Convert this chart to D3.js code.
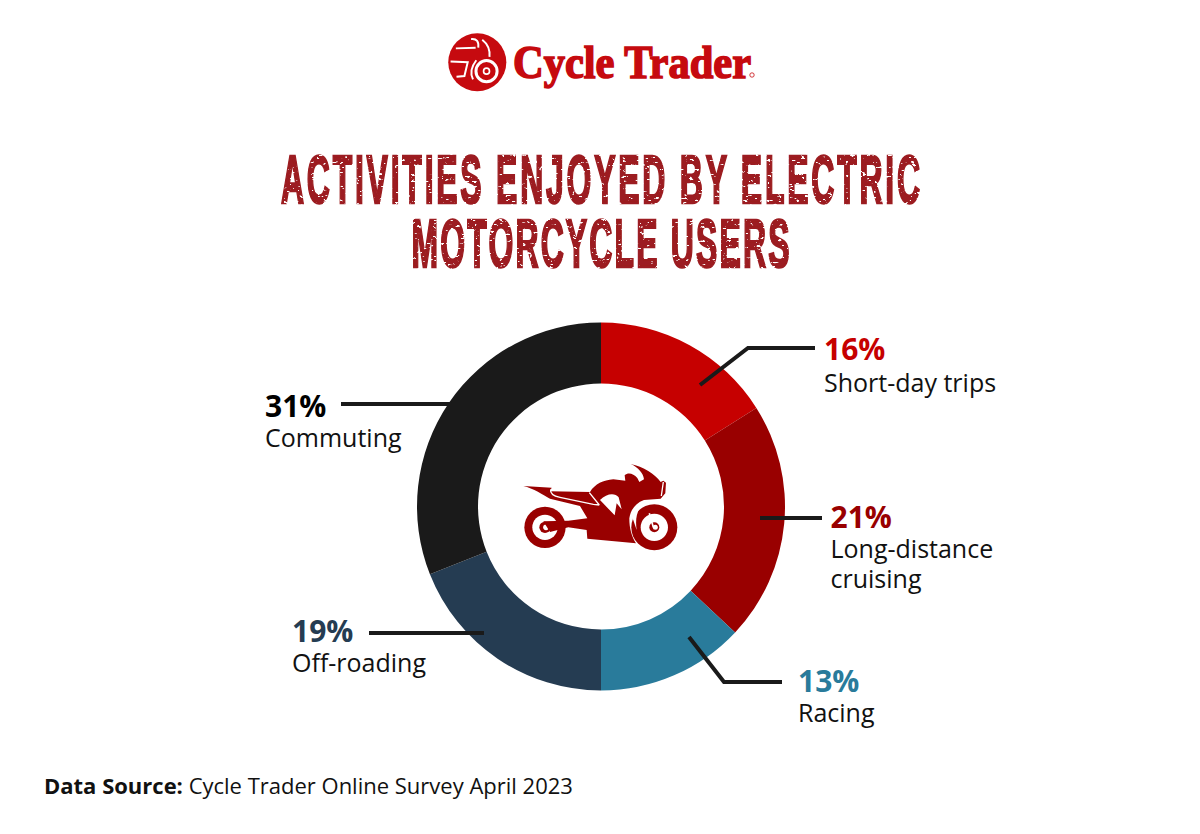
<!DOCTYPE html>
<html>
<head>
<meta charset="utf-8">
<script src="https://cdn.jsdelivr.net/npm/d3@7"></script>
<style>
  html, body { margin: 0; background: #fff; }
  svg { display: block; }
  text { font-family: "Open Sans", sans-serif; }
</style>
</head>
<body>
<svg width="1200" height="834"></svg>
<script>
const categories = ['Short-day trips', 'Long-distance cruising', 'Racing', 'Off-roading', 'Commuting'];
const values = [16, 21, 13, 19, 31];
const colors = ['#c60000', '#990000', '#297b9b', '#253c52', '#1a1a1a'];
const labelColors = ['#c60000', '#990000', '#297b9b', '#253c52', '#000'];
const labelLines = [['Short-day trips'], ['Long-distance', 'cruising'], ['Racing'], ['Off-roading'], ['Commuting']];
const titleLines = ['ACTIVITIES ENJOYED BY ELECTRIC', 'MOTORCYCLE USERS'];

const svg = d3.select('svg');
const cx = 601, cy = 506.5;

// worn print look for the title
const defs = svg.append('defs');
const worn = defs.append('filter').attr('id', 'worn')
  .attr('filterUnits', 'userSpaceOnUse')
  .attr('x', 240).attr('y', 130).attr('width', 720).attr('height', 160);
worn.append('feTurbulence')
  .attr('type', 'fractalNoise').attr('baseFrequency', '0.18 0.42')
  .attr('numOctaves', 3).attr('seed', 7).attr('result', 'noise');
worn.append('feColorMatrix').attr('in', 'noise').attr('type', 'matrix')
  .attr('values', '0 0 0 0 0  0 0 0 0 0  0 0 0 0 0  0 0 0 -14 10.4').attr('result', 'mask');
worn.append('feComposite').attr('in', 'SourceGraphic').attr('in2', 'mask').attr('operator', 'in');

const pie = d3.pie().sort(null).value(d => d);
const arc = d3.arc().innerRadius(123).outerRadius(184);
const arcs = pie(values);

const donut = svg.append('g').attr('transform', `translate(${cx}, ${cy})`);
donut.selectAll('path')
  .data(arcs)
  .enter()
  .append('path')
    .attr('d', arc)
    .attr('fill', (d, i) => colors[i]);

// logo, sketched in the crop's own 3x coordinates
const logo = svg.append('g').attr('transform', 'translate(440, 20) scale(0.33)');
logo.append('circle').attr('cx', 113).attr('cy', 128).attr('r', 88).attr('fill', '#c60a0f');
logo.append('path')
  .attr('d', 'M48,86 L108,84 M94,58 C112,56 118,66 116,84 M128,60 C146,74 152,92 150,112 M32,126 L84,128 L74,170 L50,172')
  .attr('fill', 'none').attr('stroke', '#fff').attr('stroke-width', 6);
logo.append('path')
  .attr('d', 'M110,122 C96,140 90,160 100,180')
  .attr('fill', 'none').attr('stroke', '#fff').attr('stroke-width', 6);
logo.append('circle').attr('cx', 141).attr('cy', 155).attr('r', 32)
  .attr('fill', 'none').attr('stroke', '#fff').attr('stroke-width', 9);
logo.append('circle').attr('cx', 141).attr('cy', 155).attr('r', 9)
  .attr('fill', 'none').attr('stroke', '#fff').attr('stroke-width', 5);

svg.append('text')
  .attr('x', 513).attr('y', 78)
  .attr('font-weight', 700).attr('font-size', 46)
  .attr('textLength', 238).attr('lengthAdjust', 'spacingAndGlyphs')
  .style('font-family', '"Liberation Serif", serif')
  .attr('fill', '#c60a0f')
  .attr('stroke', '#c60a0f').attr('stroke-width', 1.6)
  .text('Cycle Trader');
svg.append('circle').attr('cx', 752).attr('cy', 75).attr('r', 2.2)
  .attr('fill', 'none').attr('stroke', '#c60a0f').attr('stroke-width', 0.8);

// title: squeezed horizontally, letters spread back out to the line width
const titleScale = 0.47;
const titleWidths = [639, 378];
const title = svg.append('g').attr('filter', 'url(#worn)')
  .append('text')
    .attr('transform', `scale(${titleScale}, 1)`)
    .attr('font-size', 68)
    .attr('font-weight', 700)
    .attr('fill', '#9c1c20')
    .attr('stroke', '#9c1c20')
    .attr('stroke-width', 2.5)
    .style('font-family', '"Liberation Sans Narrow", sans-serif');
title.selectAll('tspan')
  .data(titleLines)
  .enter()
  .append('tspan')
    .attr('x', (d, i) => (600.5 - titleWidths[i] / 2) / titleScale)
    .attr('y', (d, i) => 203 + i * 64)
    .attr('textLength', (d, i) => titleWidths[i] / titleScale)
    .attr('lengthAdjust', 'spacing')
    .text(d => d);

// center bike, sketched in the crop's own 3x coordinates
const bike = svg.append('g').attr('transform', 'translate(500, 450) scale(0.3333)');
const bikeRed = '#990000';
[[135, 232, 62, 38, 17], [463, 232, 69, 41, 15]].forEach(w => {
  bike.append('circle').attr('cx', w[0]).attr('cy', w[1]).attr('r', w[2]).attr('fill', bikeRed);
  bike.append('circle').attr('cx', w[0]).attr('cy', w[1]).attr('r', w[3]).attr('fill', '#fff');
  bike.append('circle').attr('cx', w[0]).attr('cy', w[1]).attr('r', w[4]).attr('fill', bikeRed);
  bike.append('circle').attr('cx', w[0] + 3).attr('cy', w[1]).attr('r', w[4] * 0.5).attr('fill', '#fff');
});
bike.append('path').attr('fill', bikeRed)
  .attr('d', 'M70,108 L155,113 L150,124 L270,126 C285,102 310,90 340,88 L376,92 L374,76 C384,66 400,70 412,84 L418,96 L432,88 C430,70 415,52 392,42 C430,50 465,72 482,96 L490,92 L498,98 L496,130 L482,146 L432,150 C405,160 392,180 388,205 C388,235 395,260 408,280 L262,266 L260,240 L205,232 L150,246 L130,214 L205,212 L262,205 L240,168 L150,146 C130,135 100,115 70,108 Z');
bike.append('path').attr('fill', '#fff')
  .attr('d', 'M300,150 C320,130 345,128 356,142 L365,178 L350,160 L344,196 Z');
bike.append('path').attr('fill', 'none').attr('stroke', '#fff').attr('stroke-width', 4)
  .attr('d', 'M152,118 C150,130 160,138 180,142 L280,163 L298,165 M268,128 L298,165 M490,96 L484,138');
bike.append('path').attr('fill', '#fff')
  .attr('d', 'M440,150 C412,160 398,180 398,205 L410,240 C405,205 410,175 440,150 Z');
bike.append('path').attr('fill', 'none').attr('stroke', '#fff').attr('stroke-width', 5)
  .attr('d', 'M448,190 L460,232');

// callouts
const callouts = [
  { line: [[700, 385], [748, 348], [815, 348]], x: 824, y: 360, gap: 32 },
  { line: [[760, 518], [822, 518]], x: 830.5, y: 528, gap: 30 },
  { line: [[689, 637], [724, 682], [782, 682]], x: 798, y: 692, gap: 30 },
  { line: [[484, 633], [369, 633]], x: 292, y: 642, gap: 30 },
  { line: [[450, 404], [341, 404]], x: 265, y: 417, gap: 30 }
];
const lineGen = d3.line();
callouts.forEach((c, i) => {
  svg.append('path')
    .attr('d', lineGen(c.line))
    .attr('fill', 'none')
    .attr('stroke', '#1a1a1a')
    .attr('stroke-width', 4);
  const label = svg.append('text').attr('fill', '#111').attr('font-size', 25);
  label.append('tspan')
    .attr('x', c.x).attr('y', c.y)
    .attr('font-size', 30).attr('font-weight', 700)
    .attr('fill', labelColors[i])
    .text(values[i] + '%');
  labelLines[i].forEach((l, j) => {
    label.append('tspan')
      .attr('x', c.x).attr('y', c.y + c.gap + j * 29.5)
      .text(l);
  });
});

// source
const source = svg.append('text').attr('x', 44).attr('y', 794).attr('font-size', 22).attr('fill', '#111');
source.append('tspan').attr('font-weight', 700).text('Data Source: ');
source.append('tspan').text('Cycle Trader Online Survey April 2023');
</script>
</body>
</html>
